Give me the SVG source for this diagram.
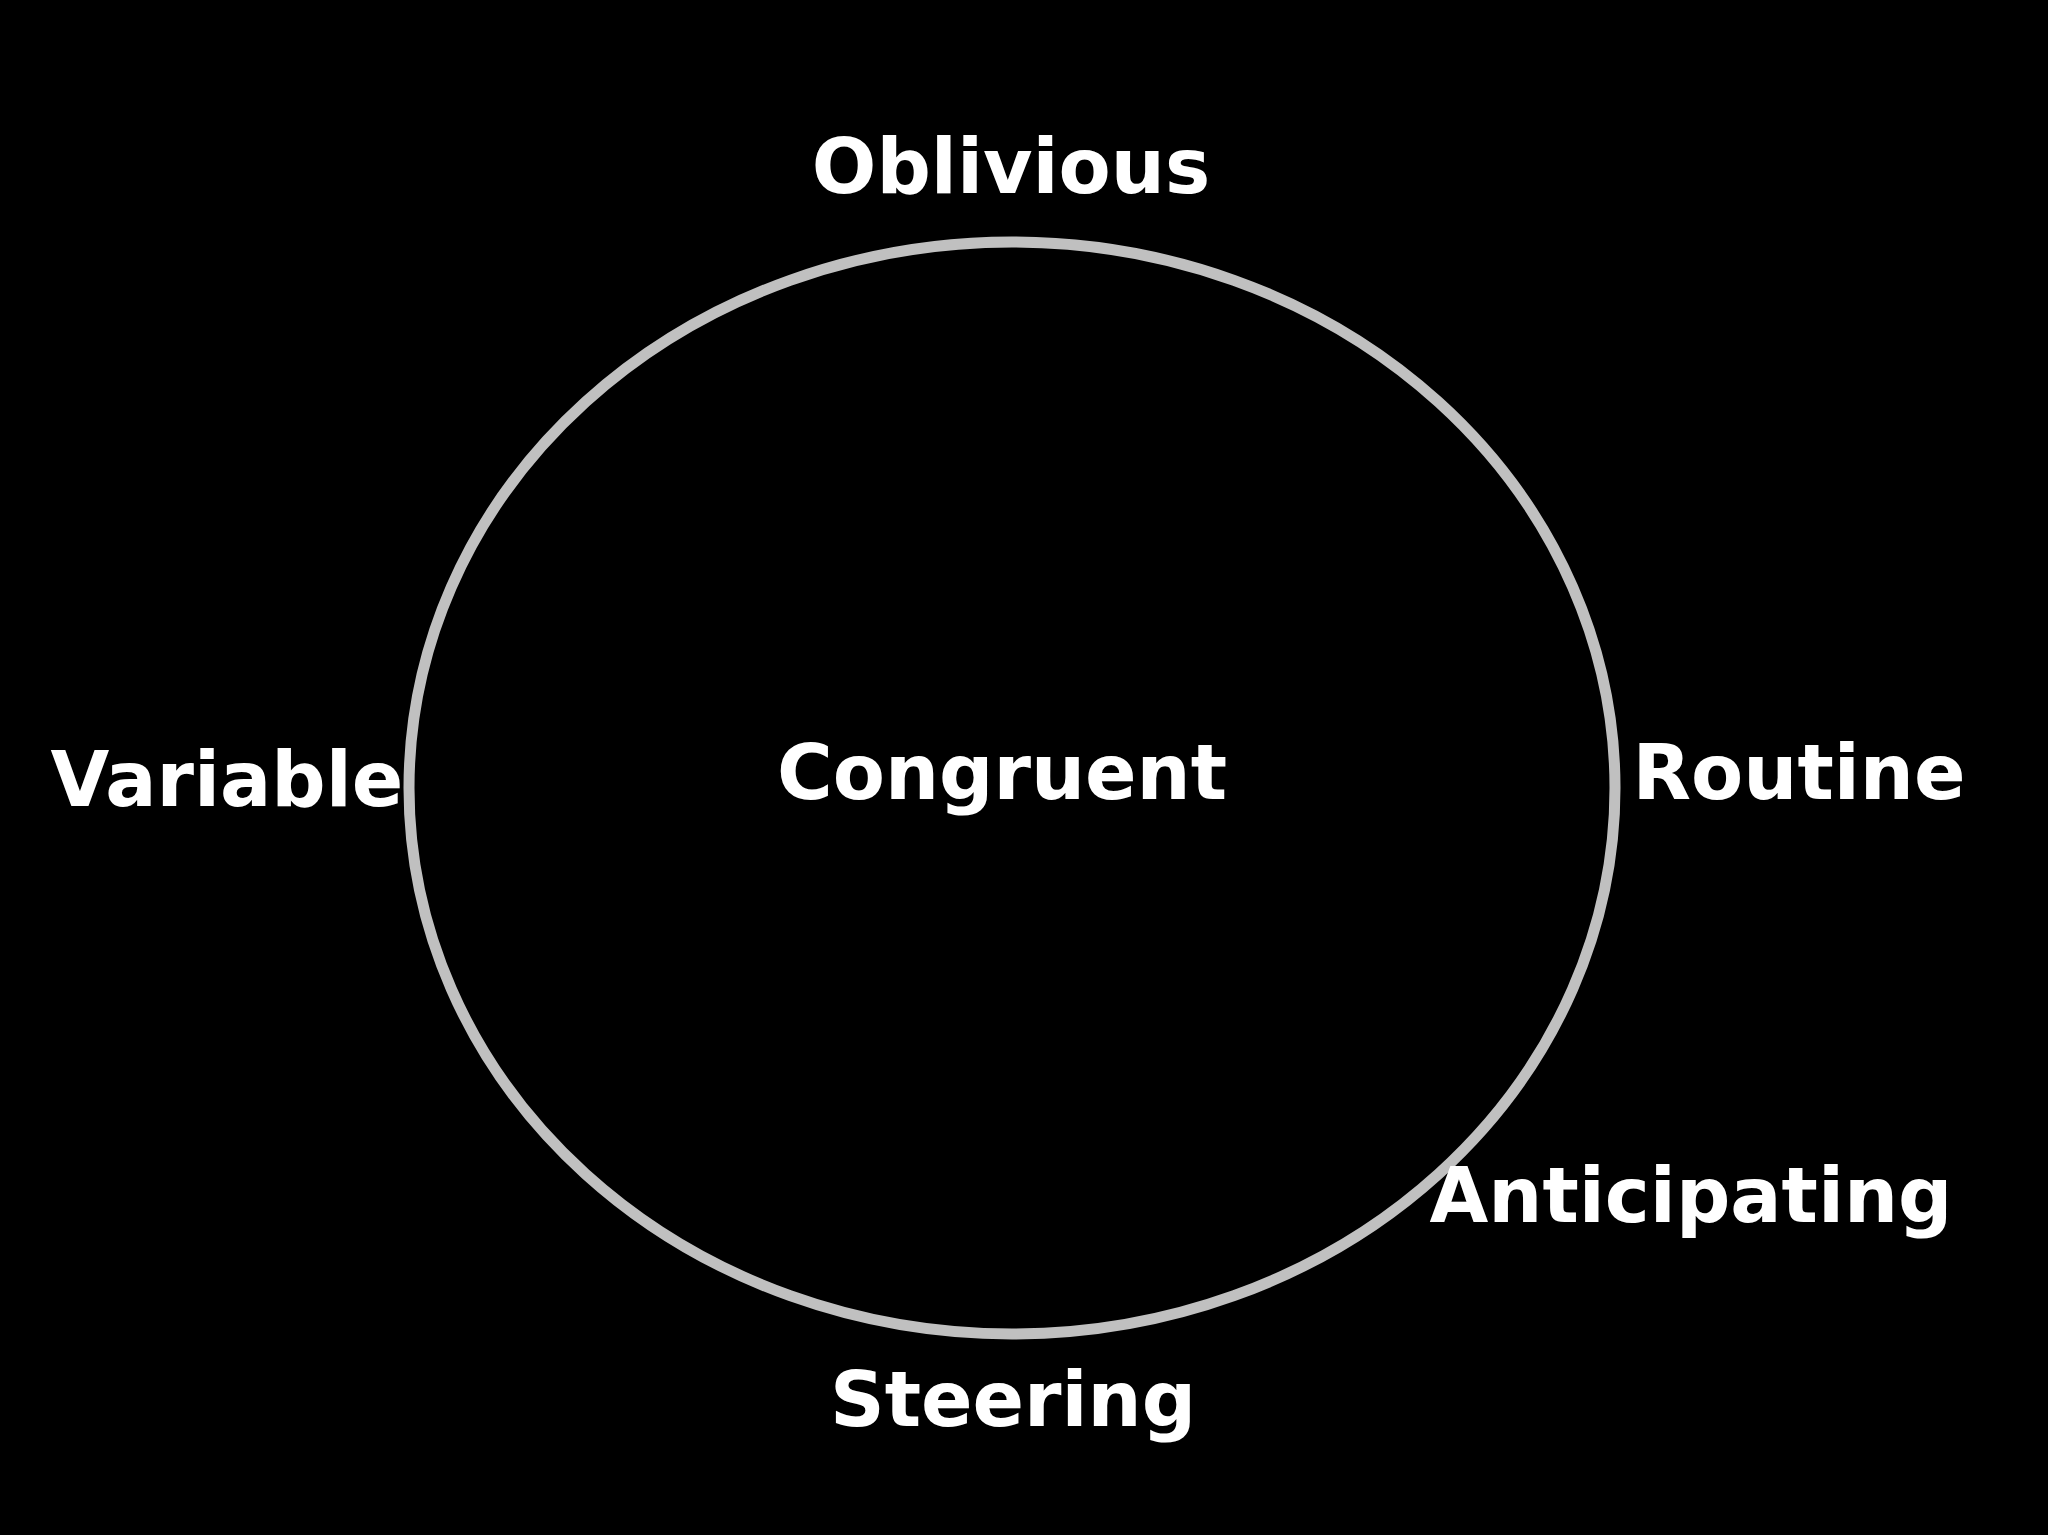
<svg xmlns="http://www.w3.org/2000/svg" width="2048" height="1535" viewBox="0 0 2048 1535">
<style>
text{font-family:"DejaVu Sans","Liberation Sans",sans-serif;font-weight:bold;font-size:76px;fill:#fff;text-anchor:middle}
</style>
<rect width="2048" height="1535" fill="#000"/>
<g id="connectors"></g>
<g id="ring"><ellipse cx="1012" cy="788" rx="603" ry="546" fill="none" stroke="#c0c0c0" stroke-width="11"/></g>
<g id="oblivious"><text x="1011" y="193">Oblivious</text></g>
<g id="variable"><text x="227" y="806">Variable</text></g>
<g id="congruent"><text x="1002" y="799">Congruent</text></g>
<g id="routine"><text x="1799" y="799">Routine</text></g>
<g id="anticipating"><text x="1691" y="1222">Anticipating</text></g>
<g id="steering"><text x="1013" y="1426">Steering</text></g>
</svg>
